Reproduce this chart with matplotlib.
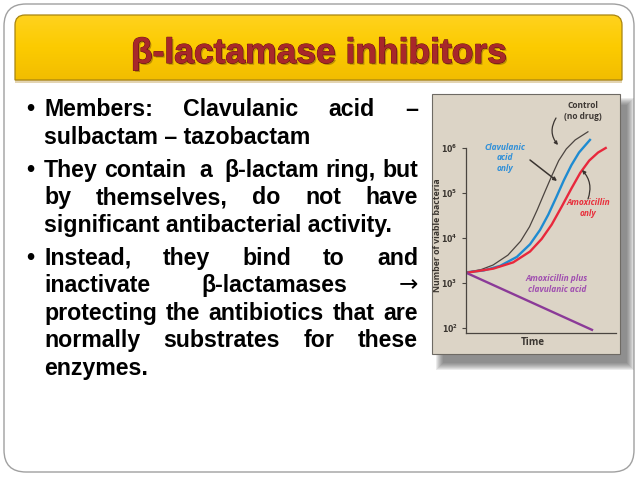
import numpy as np
import matplotlib
matplotlib.use("Agg")
import matplotlib.pyplot as plt
from matplotlib.patches import Rectangle, FancyBboxPatch, PathPatch
from matplotlib.path import Path
from matplotlib.ticker import NullLocator
import matplotlib.patheffects as pe

# ---------- data (time units, log10 of bacteria) ----------
control_t = [0.08, 1.2, 2.13, 3.3, 4.3, 5.0, 5.6, 6.2, 6.75, 7.3, 7.9, 8.6, 9.6]
control_log = [3.24, 3.30, 3.40, 3.62, 3.93, 4.25, 4.62, 5.02, 5.38, 5.72, 5.98, 6.18, 6.36]

clav_t = [0.08, 1.4, 2.68, 4.0, 5.04, 5.83, 6.48, 7.1, 7.7, 8.3, 8.9, 9.76]
clav_log = [3.24, 3.28, 3.38, 3.58, 3.86, 4.18, 4.52, 4.90, 5.28, 5.62, 5.90, 6.18]

amox_t = [0.08, 2.15, 3.72, 5.04, 5.96, 6.75, 7.54, 8.3, 9.0, 9.7, 10.4, 11.0]
amox_log = [3.23, 3.32, 3.46, 3.70, 3.98, 4.30, 4.70, 5.10, 5.45, 5.72, 5.90, 6.00]

combo_t = [0.08, 9.92]
combo_log = [3.22, 1.96]

ytick_vals = [1e2, 1e3, 1e4, 1e5, 1e6]
ytick_labels = [r"$\mathbf{10^{2}}$", r"$\mathbf{10^{3}}$", r"$\mathbf{10^{4}}$",
                r"$\mathbf{10^{5}}$", r"$\mathbf{10^{6}}$"]

title = "β-lactamase inhibitors"
# (text, justified, bullet)
lines = [
    ("Members:  Clavulanic  acid  –", True, True),
    ("sulbactam – tazobactam", False, False),
    ("They contain  a  β-lactam ring, but", True, True),
    ("by  themselves,  do  not  have", True, False),
    ("significant antibacterial activity.", False, False),
    ("Instead,  they  bind  to  and", True, True),
    ("inactivate  β-lactamases  →", True, False),
    ("protecting the antibiotics that are", True, False),
    ("normally  substrates  for  these", True, False),
    ("enzymes.", False, False),
]
baselines = [116, 144, 177, 204, 232, 265, 292, 320, 347, 375]

W, H = 638, 478
fig = plt.figure(figsize=(W / 100, H / 100), dpi=100)
fig.patch.set_facecolor("white")

# background layer in pixel coordinates (y down)
bg = fig.add_axes([0, 0, 1, 1])
bg.axis("off")

slide = FancyBboxPatch((4, 4), 630, 468, boxstyle="round,pad=0,rounding_size=22",
                       facecolor="white", edgecolor="#a0a0a0", lw=1.0)
bg.add_patch(slide)

# title banner, rounded top corners
bx0, bx1, by0, by1, r = 15, 622, 15, 80, 10
verts = [(bx0, by1), (bx0, by0 + r), (bx0, by0), (bx0 + r, by0), (bx1 - r, by0),
         (bx1, by0), (bx1, by0 + r), (bx1, by1), (bx0, by1)]
codes = [Path.MOVETO, Path.LINETO, Path.CURVE3, Path.CURVE3, Path.LINETO,
         Path.CURVE3, Path.CURVE3, Path.LINETO, Path.CLOSEPOLY]
banner = PathPatch(Path(verts, codes), facecolor="none", edgecolor="#a88410", lw=0.9, zorder=3)
bg.add_patch(banner)
grad = np.linspace(0, 1, 64).reshape(-1, 1)
cmap = matplotlib.colors.LinearSegmentedColormap.from_list("ban", ["#ffd21e", "#fccb00", "#f2bd00"])
im = bg.imshow(grad, cmap=cmap, extent=(bx0, bx1, by1, by0), aspect="auto", zorder=2)
im.set_clip_path(banner)
bg.add_patch(Rectangle((bx0, by1), bx1 - bx0, 2.5, facecolor="#e3d4b2", edgecolor="none", zorder=2))
bg.set_xlim(0, W)
bg.set_ylim(H, 0)

# chart box with soft shadow
for i in range(8):
    bg.add_patch(Rectangle((436 + i, 98 + i), 198 - 2 * i, 272 - 2 * i,
                           facecolor="#404040", edgecolor="none", alpha=0.1, zorder=2))
bg.add_patch(Rectangle((432, 94), 188, 260, facecolor="#dcd4c6", edgecolor="#6e6a64",
                       lw=0.8, zorder=3))

# ---------- inset chart ----------
ax = fig.add_axes([466 / W, (H - 333) / H, (616 - 466) / W, (333 - 121) / H])
ax.patch.set_alpha(0)
ax.set_yscale("log")
ax.set_xlim(0, 150 / 12.7)
ax.set_ylim(10 ** 1.89, 10 ** 6.6)

ax.plot(control_t, [10 ** v for v in control_log], color="#4b4440", lw=0.9)
ax.plot(clav_t, [10 ** v for v in clav_log], color="#1e8bd1", lw=1.7)
ax.plot(amox_t, [10 ** v for v in amox_log], color="#e8283c", lw=1.7)
ax.plot(combo_t, [10 ** v for v in combo_log], color="#8b3a98", lw=1.7)

for s in ["top", "right"]:
    ax.spines[s].set_visible(False)
ax.spines["left"].set_bounds(10 ** 1.89, 1e6)
for s in ["left", "bottom"]:
    ax.spines[s].set_color("#4a4540")
    ax.spines[s].set_linewidth(0.9)
ax.set_xticks([])
ax.set_yticks(ytick_vals)
ax.set_yticklabels(ytick_labels)
ax.yaxis.set_minor_locator(NullLocator())
ax.tick_params(axis="y", length=3, width=0.8, color="#4a4540", labelsize=5.6,
               labelcolor="#3a3530", pad=3)
ax.set_ylabel("Number of viable bacteria", fontsize=6.3, fontweight="bold",
              color="#3a3530", family="Open Sans")
ax.yaxis.set_label_coords((442 - 466) / 150, (333 - 235) / 212)
ax.set_xlabel("Time", fontsize=7, fontweight="bold", color="#3a3530", family="Open Sans")
ax.xaxis.set_label_coords((533 - 466) / 150, -0.02)

# ---------- overlay: texts and arrows ----------
top = fig.add_axes([0, 0, 1, 1])
top.set_xlim(0, W)
top.set_ylim(H, 0)
top.axis("off")
top.patch.set_alpha(0)

top.text(319, 63, title, ha="center", va="baseline", fontsize=25.5, fontweight="bold",
         family=["Liberation Sans", "DejaVu Sans"], color="#a8282a", zorder=5,
         path_effects=[pe.withStroke(linewidth=0.8, foreground="#6a1010"),
                       pe.SimplePatchShadow(offset=(1.2, -1.2), alpha=0.3), pe.Normal()])

fam = ["Liberation Sans", "DejaVu Sans"]
fs = 16.7
renderer = fig.canvas.get_renderer()
left_x, right_x = 44, 418
for (txt, just, bullet), yb in zip(lines, baselines):
    if bullet:
        top.text(30, yb, "•", ha="center", va="baseline", fontsize=fs, fontweight="bold",
                 family=fam, color="black")
    if not just:
        top.text(left_x, yb, txt, ha="left", va="baseline", fontsize=fs, fontweight="bold",
                 family=fam, color="black")
        continue
    tokens = txt.split(" ")
    objs = []
    total = 0.0
    for tk in tokens:
        if tk == "→":
            t = top.text(0, yb - 1, tk, ha="left", va="baseline", fontsize=fs,
                         family="DejaVu Sans", fontweight="normal", color="black")
        else:
            t = top.text(0, yb, tk, ha="left", va="baseline", fontsize=fs, fontweight="bold",
                         family=fam, color="black")
        w = t.get_window_extent(renderer).width if tk else 0.0
        objs.append((t, w))
        total += w
    gap = (right_x - left_x - total) / (len(tokens) - 1)
    x = left_x
    for t, w in objs:
        t.set_x(x)
        x += w + gap

small = dict(fontsize=6, fontweight="bold", family="Open Sans", ha="center",
             va="center", linespacing=1.15)
top.text(583, 111, "Control\n(no drug)", color="#3e3834", **small)
top.text(505, 158, "Clavulanic\nacid\nonly", color="#2f8fd8", style="italic", **small)
top.text(588, 208, "Amoxicillin\nonly", color="#e8303c", style="italic", **small)
top.text(557, 284, "Amoxicillin plus\nclavulanic acid", color="#a04fb0", style="italic", **small)

arrow_c = "#3a3430"
top.annotate("", xy=(558, 145), xytext=(556, 118),
             arrowprops=dict(arrowstyle="-|>", color=arrow_c, lw=0.9, mutation_scale=5,
                             shrinkA=0, shrinkB=0, connectionstyle="arc3,rad=0.35"))
top.annotate("", xy=(557, 181), xytext=(530, 160),
             arrowprops=dict(arrowstyle="-|>", color=arrow_c, lw=1.1, mutation_scale=5,
                             shrinkA=0, shrinkB=0))
top.annotate("", xy=(582, 170), xytext=(588, 199),
             arrowprops=dict(arrowstyle="-|>", color=arrow_c, lw=0.9, mutation_scale=5,
                             shrinkA=0, shrinkB=0, connectionstyle="arc3,rad=0.3"))

fig.savefig("out.png", dpi=100)
